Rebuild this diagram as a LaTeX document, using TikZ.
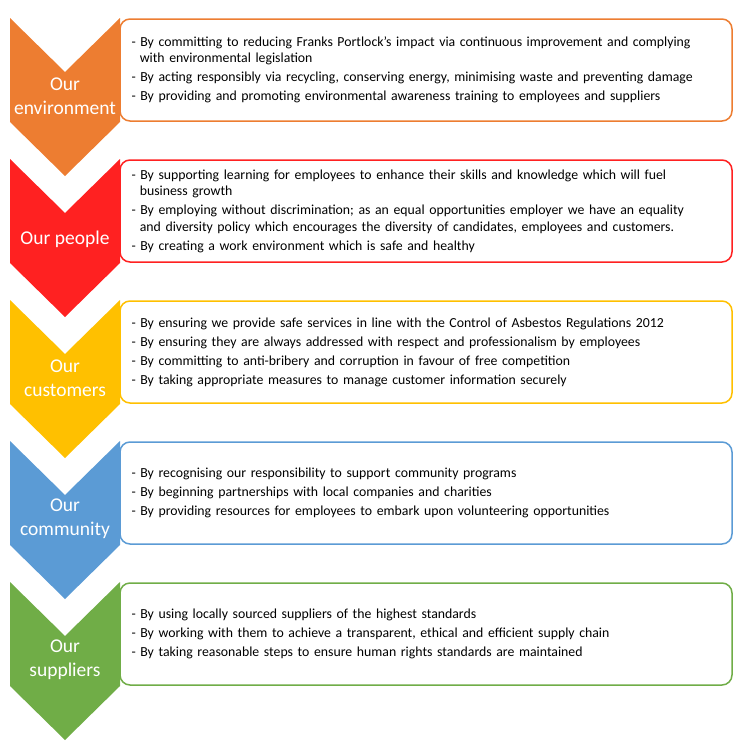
\documentclass[tikz,border=0pt]{standalone}
\usepackage{fontspec}
\setmainfont{Carlito}
\usetikzlibrary{positioning}
\definecolor{envorange}{HTML}{ED7D31}
\definecolor{peoplered}{HTML}{FF2121}
\definecolor{custyellow}{HTML}{FFC000}
\definecolor{commblue}{HTML}{5B9BD5}
\definecolor{suppgreen}{HTML}{70AD47}
\newcommand{\cont}{\hspace*{0.6em}}
\begin{document}
\begin{tikzpicture}[
    x=1pt, y=-1pt,
    infobox/.style={draw, line width=1.5pt, rounded corners=10pt, fill=white, minimum width=612pt, minimum height=102pt, inner sep=0pt},
    infotext/.style={text width=600pt, align=left, font=\fontsize{13.8}{16.5}\selectfont},
    title/.style={white, align=center, font=\fontsize{19.5}{24}\selectfont}
]
\useasboundingbox (0,0) rectangle (747,750);

% Our environment
\node[infobox, draw=envorange] (envbox) at (426,70) {};
\node[infotext, anchor=west] (envtext) at (128,70) {- By committing to reducing Franks Portlock’s impact via continuous improvement and complying\\\cont with environmental legislation\\[2.5pt]
- By acting responsibly via recycling, conserving energy, minimising waste and preventing damage\\[2.5pt]
- By providing and promoting environmental awareness training to employees and suppliers};
\fill[envorange] (10,18) -- (65,72) -- (120,18) -- (120,122) -- (65,176) -- (10,122) -- cycle;
\node[title] (envlabel) at (65,96) {Our\\environment};

% Our people
\node[infobox, draw=peoplered] (peoplebox) at (426,211) {};
\node[infotext, anchor=west] (peopletext) at (128,211) {- By supporting learning for employees to enhance their skills and knowledge which will fuel\\\cont business growth\\[2.5pt]
- By employing without discrimination; as an equal opportunities employer we have an equality\\\cont and diversity policy which encourages the diversity of candidates, employees and customers.\\[2.5pt]
- By creating a work environment which is safe and healthy};
\fill[peoplered] (10,159) -- (65,213) -- (120,159) -- (120,263) -- (65,317) -- (10,263) -- cycle;
\node[title] (peoplelabel) at (65,239) {Our people};

% Our customers
\node[infobox, draw=custyellow] (custbox) at (426,352) {};
\node[infotext, anchor=west] (custtext) at (128,352) {- By ensuring we provide safe services in line with the Control of Asbestos Regulations 2012\\[2.5pt]
- By ensuring they are always addressed with respect and professionalism by employees\\[2.5pt]
- By committing to anti-bribery and corruption in favour of free competition\\[2.5pt]
- By taking appropriate measures to manage customer information securely};
\fill[custyellow] (10,300) -- (65,354) -- (120,300) -- (120,404) -- (65,458) -- (10,404) -- cycle;
\node[title] (custlabel) at (65,378) {Our\\customers};

% Our community
\node[infobox, draw=commblue] (commbox) at (426,493) {};
\node[infotext, anchor=west] (commtext) at (128,493) {- By recognising our responsibility to support community programs\\[2.5pt]
- By beginning partnerships with local companies and charities\\[2.5pt]
- By providing resources for employees to embark upon volunteering opportunities};
\fill[commblue] (10,441) -- (65,495) -- (120,441) -- (120,545) -- (65,599) -- (10,545) -- cycle;
\node[title] (commlabel) at (65,519) {Our\\community};

% Our suppliers
\node[infobox, draw=suppgreen] (suppbox) at (426,634) {};
\node[infotext, anchor=west] (supptext) at (128,634) {- By using locally sourced suppliers of the highest standards\\[2.5pt]
- By working with them to achieve a transparent, ethical and efficient supply chain\\[2.5pt]
- By taking reasonable steps to ensure human rights standards are maintained};
\fill[suppgreen] (10,582) -- (65,636) -- (120,582) -- (120,686) -- (65,740) -- (10,686) -- cycle;
\node[title] (supplabel) at (65,660) {Our\\suppliers};

\end{tikzpicture}
\end{document}
